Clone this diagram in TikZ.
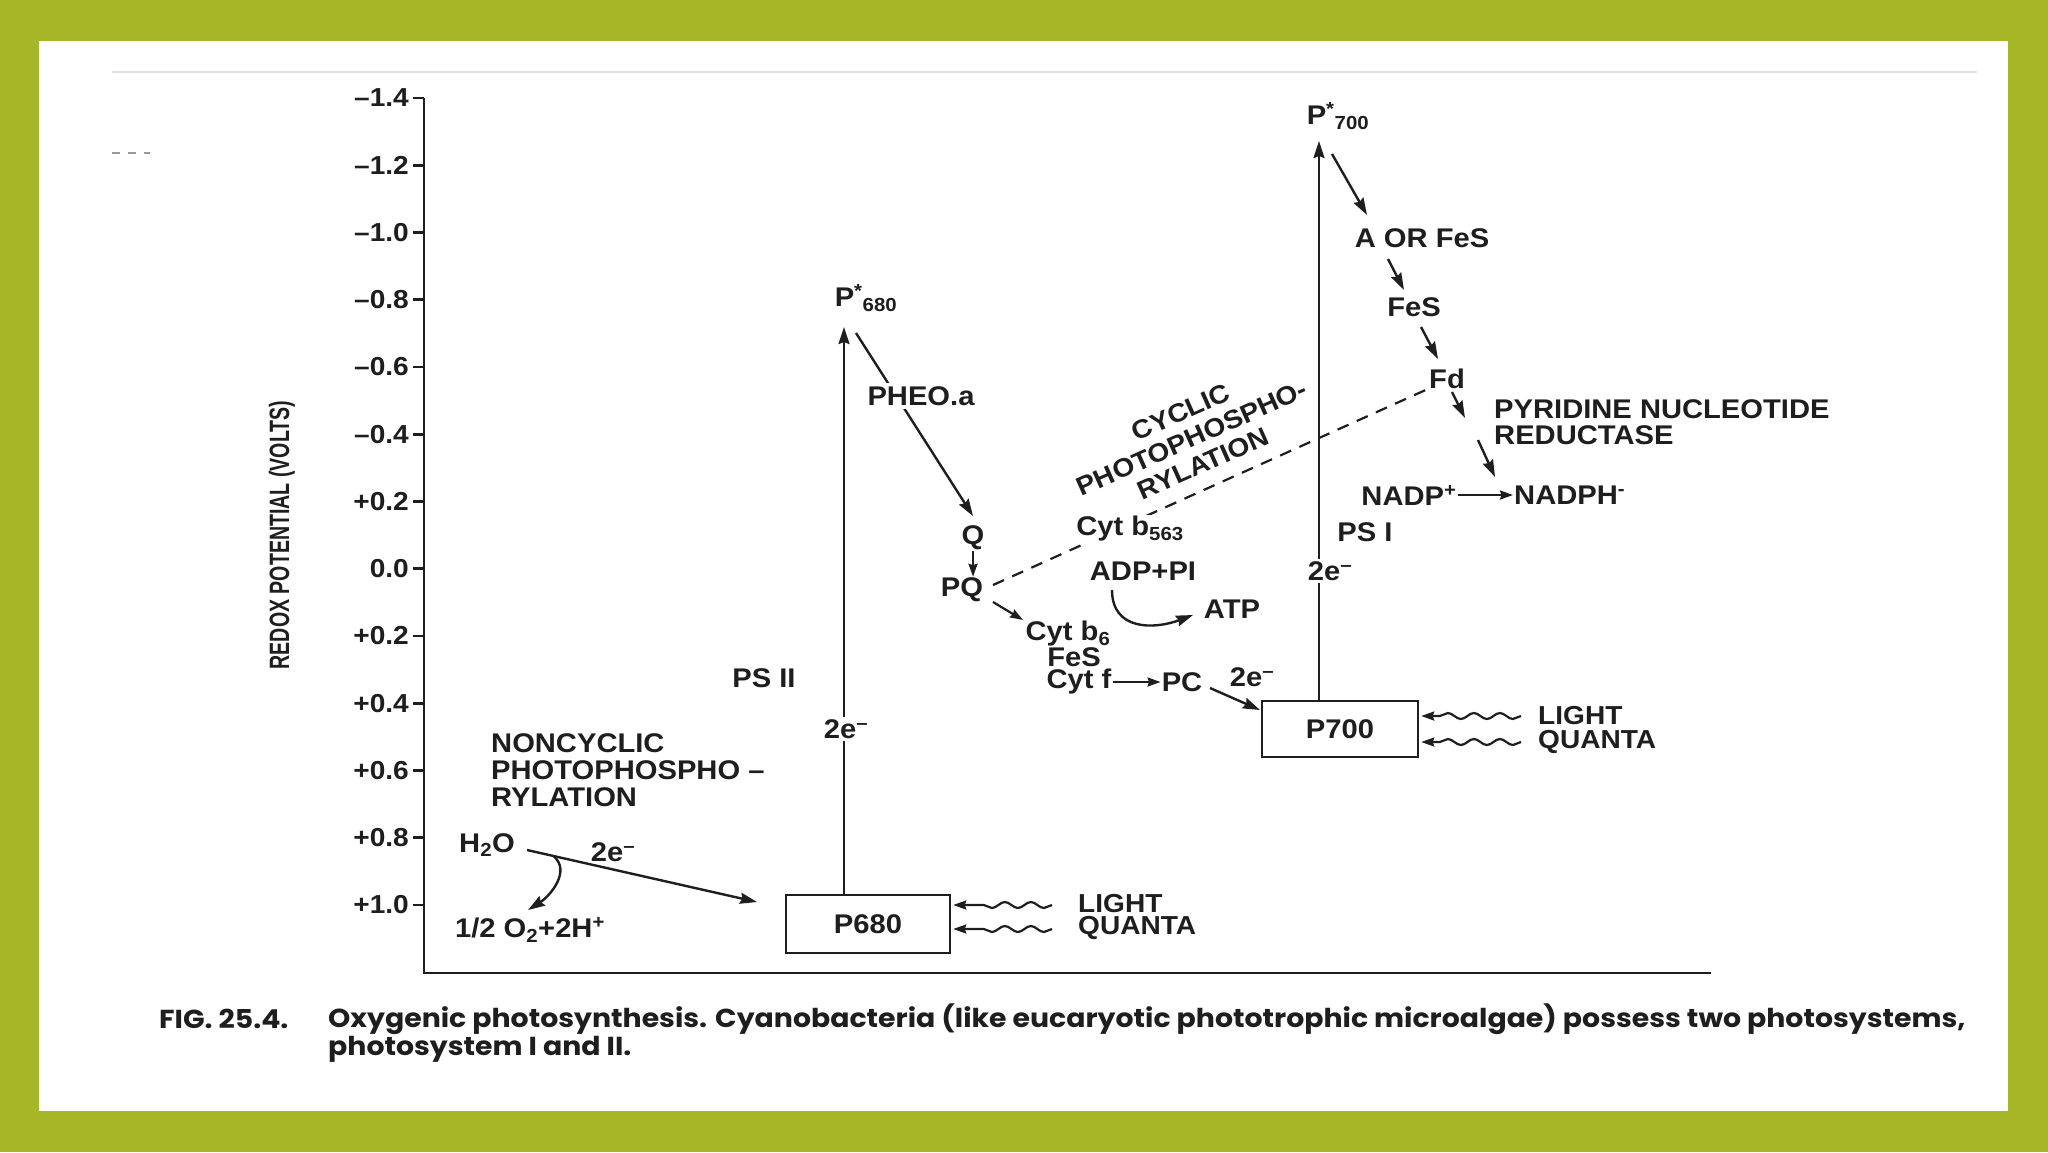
\documentclass[tikz,border=0pt]{standalone}
\usepackage{fontspec}
\setmainfont{Liberation Sans}
\newfontfamily\lblfont{Liberation Sans}[FakeStretch=1.08]
\newfontfamily\capfont{Poppins}[FakeStretch=1.09]
\newfontfamily\condfont{Liberation Sans}[FakeStretch=0.7]
\usetikzlibrary{arrows.meta,decorations.pathmorphing,calc}
\definecolor{frame}{RGB}{167,182,38}
\definecolor{ink}{RGB}{30,30,30}
\begin{document}
\begin{tikzpicture}[x=1pt,y=-1pt,
  lbl/.style={font=\lblfont\bfseries\fontsize{27}{27}\selectfont, text=ink, inner sep=1pt},
  tick/.style={font=\lblfont\bfseries\fontsize{26}{26}\selectfont, text=ink, inner sep=0pt},
  box/.style={draw=ink, line width=2.4pt, font=\lblfont\bfseries\fontsize{27}{27}\selectfont, text=ink, inner sep=0pt},
  cover/.style={lbl, fill=white, inner sep=3pt},
  axisline/.style={ink, line width=2.8pt},
  arr/.style={ink, line width=2.4pt, -{Stealth[length=17pt,width=11pt,inset=2pt]}},
  sarr/.style={ink, line width=2.2pt, -{Stealth[length=13pt,width=9pt,inset=1.5pt]}},
  dashline/.style={ink, line width=2.2pt, dash pattern=on 12pt off 9pt},
  wave/.style={ink, line width=2.2pt, decorate,
    decoration={snake, segment length=26pt, amplitude=3pt, post length=18pt},
    -{Stealth[length=13pt,width=9pt,inset=1.5pt]}},
  capstyle/.style={font=\capfont\bfseries\fontsize{26}{28}\selectfont, text=ink, inner sep=0pt}]
\useasboundingbox (0,0) rectangle (2048,1152);
% frame
\fill[frame] (0,0) rectangle (2048,1152);
\fill[white] (39,41) rectangle (2008,1111);
\draw[black!12, line width=2pt] (112,72) -- (1977,72);
\draw[black!40, line width=1.5pt, dash pattern=on 8pt off 8pt] (112,153) -- (150,153);
% axes
\draw[axisline] (424,98) -- (424,973) -- (1711,973);
\foreach \lab [count=\i from 0] in {–1.4,–1.2,–1.0,–0.8,–0.6,–0.4,+0.2,0.0,+0.2,+0.4,+0.6,+0.8,+1.0} {
  \pgfmathsetmacro\yy{98+67.25*\i}
  \draw[axisline] (413,\yy) -- (424,\yy);
  \node[tick, anchor=east] (t\i) at (409,\yy) {\lab};
}
\node[font=\condfont\bfseries\fontsize{28}{28}\selectfont, text=ink, rotate=90] (ylab) at (282,535) {REDOX POTENTIAL (VOLTS)};
% boxes
\node[box, minimum width=164pt, minimum height=58pt] (p680) at (868,924) {P680};
\node[box, minimum width=156pt, minimum height=56pt] (p700) at (1340,729) {P700};
% labels
\node[lbl] (p680s) at (866,298) {P\textsuperscript{*}\textsubscript{680}};
\node[lbl] (p700s) at (1338,116) {P\textsuperscript{*}\textsubscript{700}};
\node[lbl] (q) at (973,538) {Q};
\node[lbl] (pq) at (962,590) {PQ};
\node[lbl] (fd) at (1447,379) {Fd};
\node[lbl] (aorfes) at (1422,238) {A OR FeS};
\node[lbl] (fes2) at (1414,307) {FeS};
\node[lbl, anchor=west, align=left, font=\lblfont\bfseries\fontsize{27}{26}\selectfont] (pnr) at (1493,422) {PYRIDINE NUCLEOTIDE\\REDUCTASE};
\node[lbl] (nadp) at (1409,495) {NADP\textsuperscript{+}};
\node[lbl, anchor=west] (nadph) at (1513,495) {NADPH\textsuperscript{-}};
\node[lbl] (ps1) at (1365,532) {PS I};
\node[lbl] (adp) at (1143,571) {ADP+PI};
\node[lbl] (atp) at (1232,609) {ATP};
\node[lbl] (cytb6) at (1068,634) {Cyt b\textsubscript{6}};
\node[lbl] (fes1) at (1074,657) {FeS};
\node[lbl] (cytf) at (1079,682) {Cyt f};
\node[lbl] (pc) at (1182,682) {PC};
\node[lbl] (e2d) at (1252,677) {2e\textsuperscript{–}};
\node[lbl] (ps2) at (764,678) {PS II};
\node[lbl] (h2o) at (487,845) {H\textsubscript{2}O};
\node[lbl] (e2c) at (613,852) {2e\textsuperscript{–}};
\node[lbl] (o2) at (530,930) {1/2 O\textsubscript{2}+2H\textsuperscript{+}};
\node[lbl, anchor=west, align=left, font=\lblfont\bfseries\fontsize{27}{27}\selectfont] (noncyc) at (490,770) {NONCYCLIC\\PHOTOPHOSPHO –\\RYLATION};
\node[lbl, align=center, rotate=24, font=\lblfont\bfseries\fontsize{26}{28}\selectfont] (cyclic) at (1192,438) {CYCLIC\\PHOTOPHOSPHO-\\RYLATION};
\node[lbl, anchor=west, align=left, font=\lblfont\bfseries\fontsize{26}{22}\selectfont] (lq1) at (1077,917) {LIGHT\\QUANTA};
\node[lbl, anchor=west, align=left, font=\lblfont\bfseries\fontsize{26}{24}\selectfont] (lq2) at (1537,730) {LIGHT\\QUANTA};
% connectors
\coordinate (ps2top) at (844,327);
\coordinate (ps1top) at (1319,141);
\draw[arr] (p680.north -| ps2top) -- (ps2top);
\draw[arr] (p700.north -| ps1top) -- (ps1top);
\draw[arr] ([shift={(-10,35)}]p680s.center) -- ([shift={(0,-22)}]q.center);
\draw[sarr] (q.south) -- (q.south |- pq.north);
\draw[dashline] ([shift={(31,-5)}]pq.center) -- ([shift={(-17,9)}]fd.center);
\draw[sarr] ([shift={(31,12)}]pq.center) -- ([shift={(-45,-14)}]cytb6.center);
\draw[sarr] (cytf.east) -- (pc.west);
\draw[arr] ([shift={(28,6)}]pc.center) -- ([shift={(-80,-19)}]p700.center);
\draw[arr] ([shift={(-31,19)}]adp.center) .. controls +(0,40) and +(-40,15) .. ([shift={(-39,6)}]atp.center);
\draw[arr] ([shift={(-6,38)}]p700s.center) -- ([shift={(-55,-23)}]aorfes.center);
\draw[arr] ([shift={(-34,21)}]aorfes.center) -- ([shift={(-10,-17)}]fes2.center);
\draw[arr] ([shift={(7,20)}]fes2.center) -- ([shift={(-9,-20)}]fd.center);
\draw[arr] ([shift={(5,13)}]fd.center) -- ([shift={(-28,-4)}]pnr.west);
\draw[arr] ([shift={(-15,18)}]pnr.west) -- ([shift={(-18,-18)}]nadph.west);
\draw[sarr] (nadp.east) -- (nadph.west);
\draw[arr] ([shift={(40,5)}]h2o.center) -- ([shift={(-111,-22)}]p680.center) coordinate[pos=0.115] (split);
\draw[arr] (split) .. controls +(18,15) and +(22,-14) .. ([shift={(-2,-20)}]o2.center);
\draw[wave] ([shift={(-25,-12)}]lq1.west) -- ([shift={(2,-19)}]p680.east);
\draw[wave] ([shift={(-25,12)}]lq1.west) -- ([shift={(2,5)}]p680.east);
\draw[wave] ([shift={(-16,-14)}]lq2.west) -- ([shift={(2,-13)}]p700.east);
\draw[wave] ([shift={(-16,12)}]lq2.west) -- ([shift={(2,13)}]p700.east);
% labels that interrupt lines
\node[cover] (pheo) at (921,396) {PHEO.a};
\node[cover, inner sep=1pt] (cytb563) at (1130,529) {Cyt b\textsubscript{563}};
\node[cover, inner sep=2pt] (e2a) at (846,729) {2e\textsuperscript{–}};
\node[cover, inner sep=2pt] (e2b) at (1330,571) {2e\textsuperscript{–}};
% caption
\node[capstyle, anchor=west] (fig) at (159,1019) {FIG. 25.4.};
\node[capstyle, anchor=north west, align=left] (cap) at (328,1004) {Oxygenic photosynthesis. Cyanobacteria (like eucaryotic phototrophic microalgae) possess two photosystems,\\photosystem I and II.};
\end{tikzpicture}
\end{document}
